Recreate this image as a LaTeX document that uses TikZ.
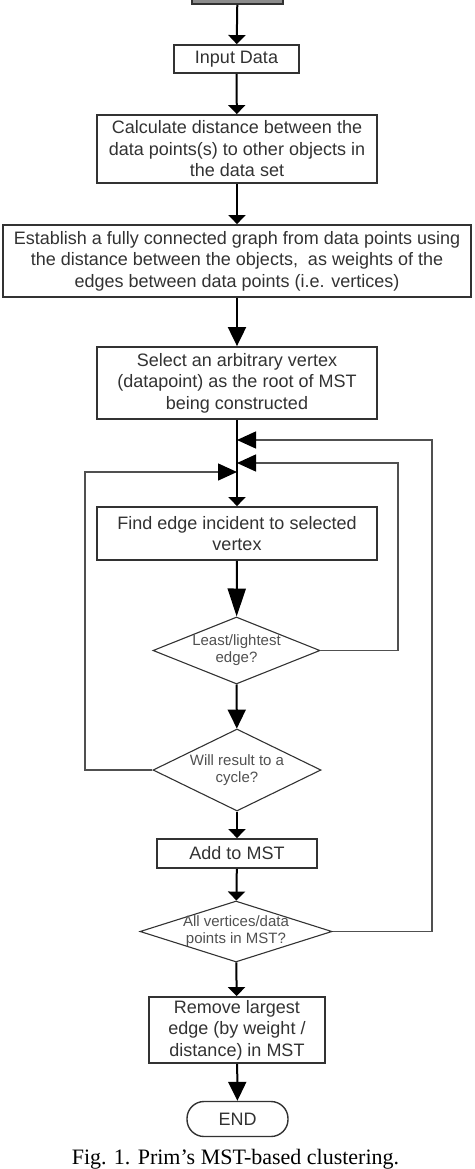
\documentclass[tikz,border=0pt]{standalone}
\usepackage{fontspec}
\setmainfont{Liberation Serif}
\setsansfont{Liberation Sans}
\usetikzlibrary{arrows.meta,shapes.geometric}
\definecolor{BoxGray}{RGB}{50,50,50}
\definecolor{LoopGray}{RGB}{80,80,80}
\definecolor{StartGray}{RGB}{140,140,140}
\tikzset{
  procbox/.style={draw=BoxGray,line width=1.8pt,inner sep=0pt,align=center,text=BoxGray,
    font=\sffamily\fontsize{18}{21.5}\selectfont},
  decide/.style={draw=BoxGray,line width=1.1pt,shape=diamond,inner sep=0pt},
  dtext/.style={align=center,text=LoopGray,inner sep=0pt,font=\sffamily\fontsize{15}{17}\selectfont},
  flow/.style={line width=2pt,black},
  back/.style={line width=1.4pt,LoopGray},
  tipflat/.style={-{Triangle[length=9pt,width=17pt]}},
  tiptall/.style={-{Triangle[length=19pt,width=18pt]}},
  tiplong/.style={-{Triangle[length=28pt,width=18pt]}},
  tiploop/.style={-{Triangle[length=19pt,width=17pt,color=black]}},
}
\begin{document}
\begin{tikzpicture}[x=1pt,y=-1pt]
  \useasboundingbox (0,0) rectangle (474,1169);
  \clip (0,0) rectangle (474,1169);
  % boxes
  \node[procbox,fill=StartGray,minimum width=91pt,minimum height=30pt] (start) at (237.5,-11) {};
  \node[procbox,minimum width=125pt,minimum height=28pt] (input) at (236.5,59) {Input Data};
  \node[procbox,minimum width=280pt,minimum height=68pt] (calc) at (237,149)
    {Calculate distance between the\\data points(s) to other objects in\\the data set};
  \node[procbox,minimum width=468pt,minimum height=72pt] (graph) at (237,261)
    {Establish a fully connected graph from data points using\\the distance between the objects,\ \ as weights of the\\edges between data points (i.e. vertices)};
  \node[procbox,minimum width=280pt,minimum height=72pt] (root) at (237,383)
    {Select an arbitrary vertex\\(datapoint) as the root of MST\\being constructed};
  \node[procbox,minimum width=280pt,minimum height=53pt] (find) at (237,533.5)
    {Find edge incident to selected\\vertex};
  \node[decide,minimum width=167pt,minimum height=67pt,
    label={[dtext]center:Least/lightest\\edge?}] (least) at (236.5,650.5) {};
  \node[decide,minimum width=168pt,minimum height=82pt,
    label={[dtext]center:Will result to a\\cycle?}] (cycle) at (237,770) {};
  \node[procbox,minimum width=160pt,minimum height=29pt] (add) at (237,853.5) {Add to MST};
  \node[decide,minimum width=192pt,minimum height=61pt,
    label={[dtext]center:All vertices/data\\points in MST?}] (all) at (236,931.5) {};
  \node[procbox,minimum width=176pt,minimum height=66pt] (remove) at (237,1030)
    {Remove largest\\edge (by weight /\\distance) in MST};
  \node[procbox,line width=1.4pt,rounded corners=17pt,minimum width=101pt,minimum height=35pt] (stop) at (237.5,1119) {END};
  \node[anchor=base,inner sep=0pt,font=\fontsize{22}{24}\selectfont] (caption) at (235.5,1164)
    {Fig. 1. Prim’s MST-based clustering.};
  % joints on the main line
  \coordinate (j1) at (237,440);
  \coordinate (j2) at (237,463);
  \coordinate (j3) at (237,472);
  \coordinate (r1) at (432,440);
  \coordinate (r2) at (398,463);
  \coordinate (l3) at (85,472);
  % main flow
  \draw[flow,tipflat] (start) -- (input);
  \draw[flow,tipflat] (input) -- (calc);
  \draw[flow,tipflat] (calc) -- (graph);
  \draw[flow,tiptall] (graph) -- (root);
  \draw[flow,tipflat] (root) -- (find);
  \draw[flow,tiplong] (find) -- (least);
  \draw[flow,tiptall] (least) -- (cycle);
  \draw[flow,tipflat] (cycle) -- (add);
  \draw[flow,tipflat] (add) -- (all);
  \draw[flow,tipflat] (all) -- (remove);
  \draw[flow,tiptall] (remove) -- (stop);
  % loops back
  \draw[back,tiploop] (all.east) -| (r1) -- (j1);
  \draw[back,tiploop] (least.east) -| (r2) -- (j2);
  \draw[back,tiploop] (cycle.west) -| (l3) -- (j3);
\end{tikzpicture}
\end{document}
